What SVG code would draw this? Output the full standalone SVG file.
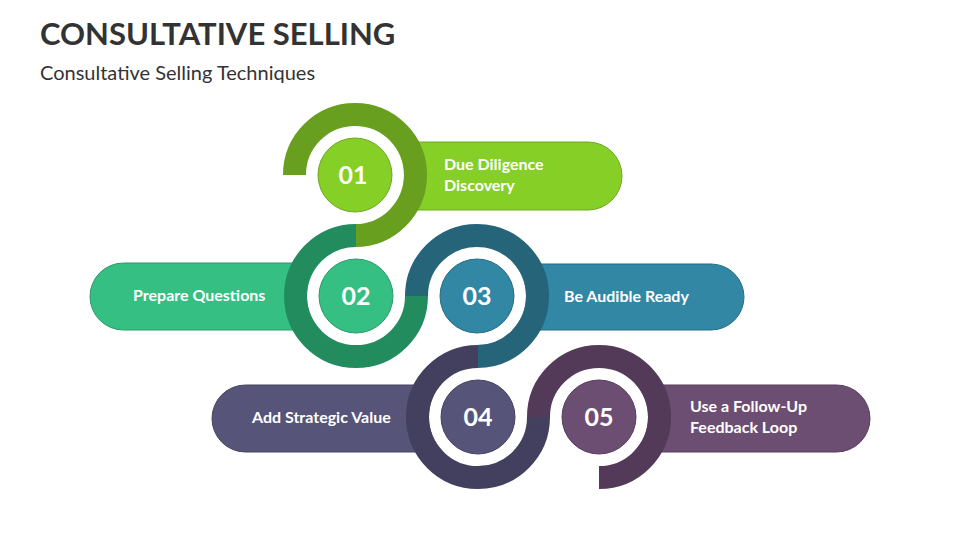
<svg xmlns="http://www.w3.org/2000/svg" width="960" height="540" viewBox="0 0 960 540">
<style>
.t{font-family:Lato,"Open Sans",sans-serif;fill:#333}
.lb{font-family:Lato,"Open Sans",sans-serif;font-size:16px;font-weight:bold;fill:#fff}
.num{font-family:Lato,"Open Sans",sans-serif;font-size:25px;font-weight:bold;fill:#fff;text-anchor:middle}
.ring{fill:none;stroke-width:23}
.gap{fill:#fff}
</style>
<rect width="960" height="540" fill="#fff"/>
<text class="t" x="40" y="45" font-size="31" font-weight="bold">CONSULTATIVE SELLING</text>
<text class="t" x="40" y="80" font-size="20">Consultative Selling Techniques</text>
<g id="pills">
<rect x="340" y="142" width="282" height="68" rx="34" fill="#86CF27" stroke="#6FA821"/>
<rect x="90" y="263" width="280" height="67" rx="33.5" fill="#35BF82" stroke="#2A9A69"/>
<rect x="460" y="264" width="284" height="66" rx="33" fill="#3287A5" stroke="#286C85"/>
<rect x="212" y="385" width="280" height="67" rx="33.5" fill="#575479" stroke="#46435F"/>
<rect x="585" y="385" width="285" height="67" rx="33.5" fill="#6C4E73" stroke="#563E5C"/>
</g>
<g id="gaps">
<circle class="gap" cx="355" cy="175" r="49"/>
<circle class="gap" cx="356" cy="296" r="49"/>
<circle class="gap" cx="477" cy="296" r="49"/>
<circle class="gap" cx="478" cy="417" r="49"/>
<circle class="gap" cx="599" cy="417" r="49"/>
</g>
<g id="connectors">
<path class="ring" stroke="#689F1F" d="M294.5 175 A60.5 60.5 0 1 1 355 235.5"/>
<path class="ring" stroke="#238C5F" d="M356 235.5 A60.5 60.5 0 1 0 416.5 296"/>
<path class="ring" stroke="#256479" d="M416.5 296 A60.5 60.5 0 1 1 477 356.5"/>
<path class="ring" stroke="#42405E" d="M478 356.5 A60.5 60.5 0 1 0 538.5 417"/>
<path class="ring" stroke="#533A58" d="M538.5 417 A60.5 60.5 0 1 1 599 477.5"/>
</g>
<g id="n1"><circle cx="355" cy="175" r="37" fill="#86CF27" stroke="#6FA821"/><text class="num" x="353" y="184">01</text>
<text class="lb" x="444" y="170">Due Diligence</text><text class="lb" x="444" y="191">Discovery</text></g>
<g id="n2"><circle cx="356" cy="296" r="37" fill="#35BF82" stroke="#2A9A69"/><text class="num" x="356" y="305">02</text>
<text class="lb" x="133" y="301">Prepare Questions</text></g>
<g id="n3"><circle cx="477" cy="296" r="37" fill="#3287A5" stroke="#286C85"/><text class="num" x="477" y="305">03</text>
<text class="lb" x="564" y="302">Be Audible Ready</text></g>
<g id="n4"><circle cx="478" cy="417" r="37" fill="#575479" stroke="#46435F"/><text class="num" x="478" y="426">04</text>
<text class="lb" x="252" y="423">Add Strategic Value</text></g>
<g id="n5"><circle cx="599" cy="417" r="37" fill="#6C4E73" stroke="#563E5C"/><text class="num" x="599" y="426">05</text>
<text class="lb" x="690" y="412">Use a Follow-Up</text><text class="lb" x="690" y="433">Feedback Loop</text></g>
</svg>
